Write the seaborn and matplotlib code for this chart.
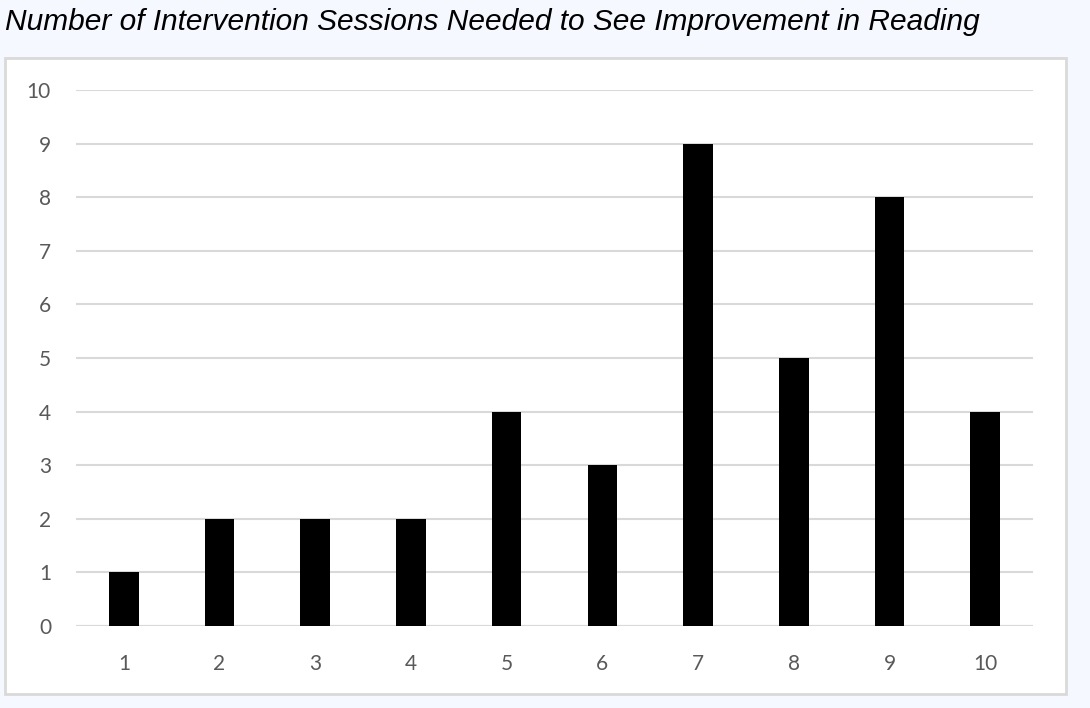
import matplotlib
matplotlib.use('Agg')
import matplotlib.pyplot as plt
from matplotlib.patches import Rectangle
import pandas as pd
import seaborn as sns

sessions = ['1', '2', '3', '4', '5', '6', '7', '8', '9', '10']
counts = [1, 2, 2, 2, 4, 3, 9, 5, 8, 4]
y_ticks = list(range(0, 11))

title = 'Number of Intervention Sessions Needed to See Improvement in Reading'


def main():
    sns.set_style('white')
    plt.rcParams['font.family'] = ['Lato', 'DejaVu Sans']

    df = pd.DataFrame({'sessions': sessions, 'count': counts})

    fig = plt.figure(figsize=(10.9, 7.08), dpi=100)
    fig.patch.set_facecolor('#f5f8fe')

    # white chart area with a light border, kept behind the axes
    box = Rectangle((5 / 1090, 1 - 694 / 708), 1061 / 1090, 636 / 708,
                    transform=fig.transFigure, facecolor='white',
                    edgecolor='#d9d9d9', linewidth=2, zorder=-5)
    fig.patches.append(box)

    ax = fig.add_axes([76 / 1090, 82 / 708, 957 / 1090, 536 / 708])
    ax.set_facecolor('none')
    sns.barplot(data=df, x='sessions', y='count', color='black',
                width=0.31, saturation=1, linewidth=0, ax=ax, zorder=3)

    ax.set_xlim(-0.5, 9.5)
    ax.set_ylim(0, 10)
    ax.set_yticks(y_ticks)
    ax.yaxis.grid(True, color='#d9d9d9', linewidth=1.5, zorder=0)
    ax.set_axisbelow(True)
    for side in ['top', 'right', 'left', 'bottom']:
        ax.spines[side].set_visible(False)
    ax.axhline(0, color='#d9d9d9', linewidth=1.5, zorder=1)

    ax.set_xlabel('')
    ax.set_ylabel('')
    ax.tick_params(axis='both', length=0, labelsize=15, colors='#595959')
    ax.tick_params(axis='y', pad=18)
    ax.tick_params(axis='x', pad=20)

    fig.text(5 / 1090, 1 - 22 / 708, title, fontsize=21.5, style='italic',
             family='Liberation Sans', va='center', ha='left', color='black')

    fig.savefig('out.png', dpi=100, facecolor=fig.get_facecolor())
    plt.close(fig)


if __name__ == '__main__':
    main()
